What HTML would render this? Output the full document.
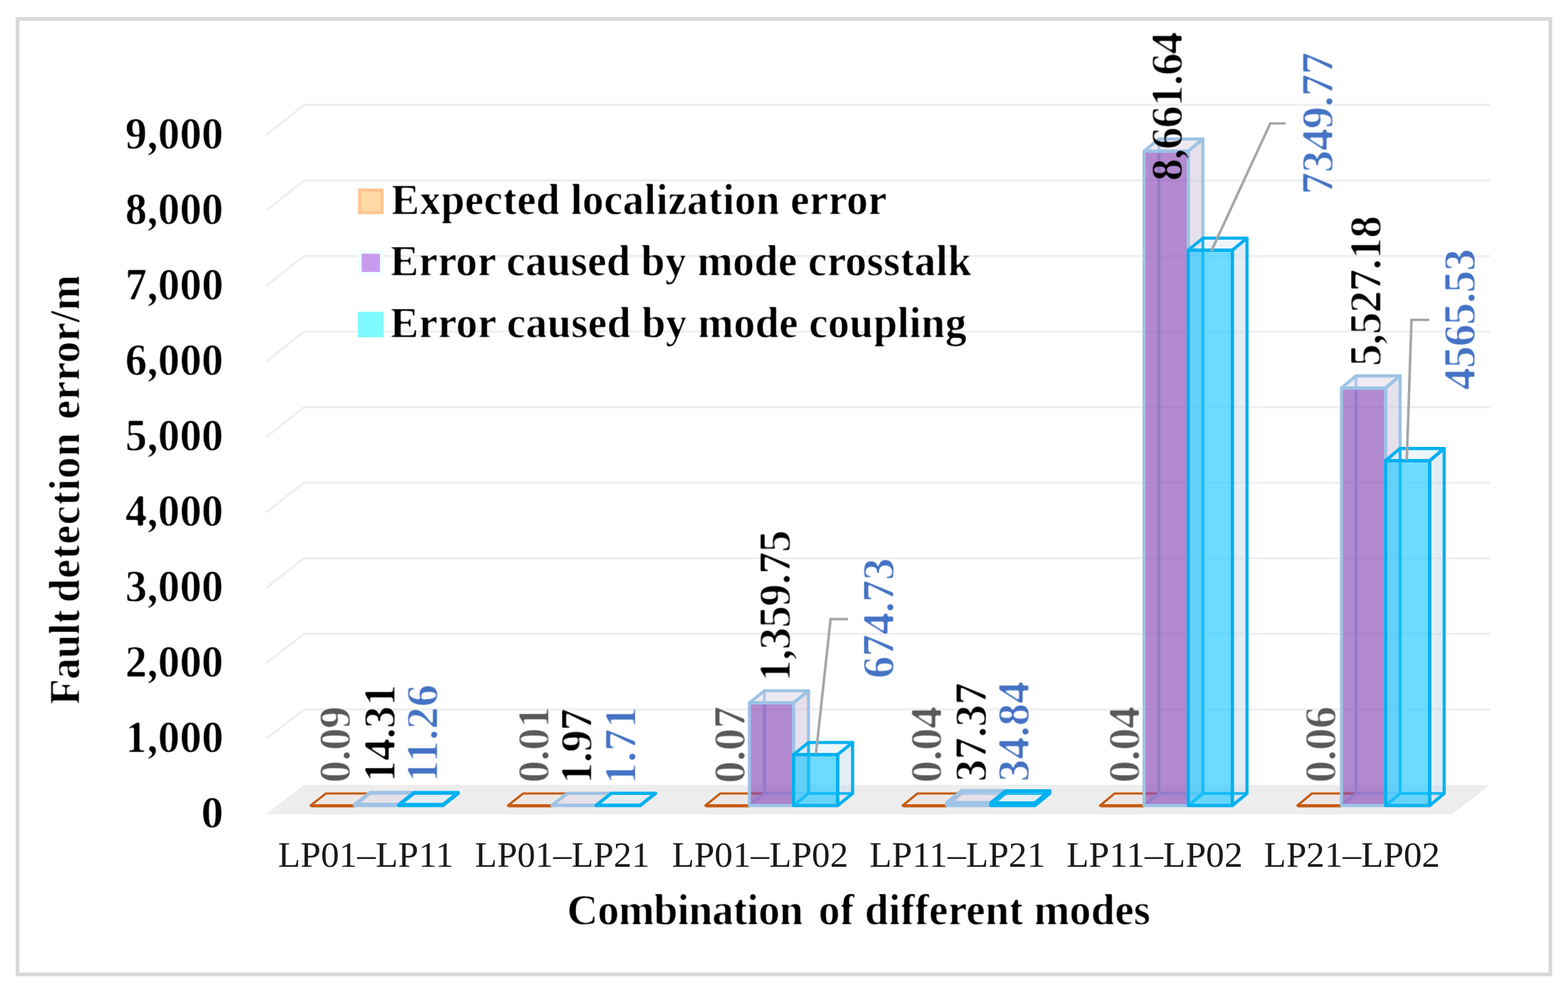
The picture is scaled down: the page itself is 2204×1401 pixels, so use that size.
<!DOCTYPE html>
<html lang="en">
<head>
<meta charset="utf-8">
<title>Fault detection error for combinations of different modes</title>
<style>
html,body{margin:0;padding:0;background:#fff;}
body{width:2204px;height:1401px;overflow:hidden;}
svg{display:block;font-family:"Liberation Serif", "DejaVu Serif", serif;}
svg text{white-space:pre;}
</style>
</head>
<body>
<svg width="2204" height="1401" viewBox="0 0 2204 1401">
<defs>
<filter id="page" filterUnits="userSpaceOnUse" x="0" y="0" width="2204" height="1401" color-interpolation-filters="sRGB">
<feGaussianBlur stdDeviation="0.55"/>
</filter>
<filter id="soft" x="-5%" y="-5%" width="110%" height="110%" color-interpolation-filters="sRGB">
<feGaussianBlur stdDeviation="0.7"/>
</filter>
<filter id="thin" x="-5%" y="-30%" width="110%" height="160%" color-interpolation-filters="sRGB">
<feGaussianBlur stdDeviation="1"/>
<feComponentTransfer><feFuncA type="linear" slope="2.2" intercept="-0.901"/></feComponentTransfer>
</filter>
<filter id="thin2" x="-5%" y="-30%" width="110%" height="160%" color-interpolation-filters="sRGB">
<feGaussianBlur stdDeviation="1"/>
<feComponentTransfer><feFuncA type="linear" slope="2.2" intercept="-1.021"/></feComponentTransfer>
</filter>
</defs>
<rect x="0" y="0" width="2204" height="1401" fill="#ffffff"/>
<g filter="url(#page)">
<rect x="24.7" y="26.6" width="2154.5" height="1342.6" fill="none" stroke="#d9d9d9" stroke-width="5.2"/>
<g filter="url(#soft)">
<polygon points="374.0,1144.3 427.5,1103.0 2094.5,1103.0 2041.0,1144.3" fill="#ededed"/>
<polyline points="374.0,1038.27 427.5,996.83 2094.5,996.83" fill="none" stroke="#efefef" stroke-width="3.2" stroke-linejoin="round"/>
<polyline points="374.0,932.24 427.5,890.66 2094.5,890.66" fill="none" stroke="#efefef" stroke-width="3.2" stroke-linejoin="round"/>
<polyline points="374.0,826.21 427.5,784.49 2094.5,784.49" fill="none" stroke="#efefef" stroke-width="3.2" stroke-linejoin="round"/>
<polyline points="374.0,720.18 427.5,678.32 2094.5,678.32" fill="none" stroke="#efefef" stroke-width="3.2" stroke-linejoin="round"/>
<polyline points="374.0,614.15 427.5,572.15 2094.5,572.15" fill="none" stroke="#efefef" stroke-width="3.2" stroke-linejoin="round"/>
<polyline points="374.0,508.12 427.5,465.98 2094.5,465.98" fill="none" stroke="#efefef" stroke-width="3.2" stroke-linejoin="round"/>
<polyline points="374.0,402.09 427.5,359.81 2094.5,359.81" fill="none" stroke="#efefef" stroke-width="3.2" stroke-linejoin="round"/>
<polyline points="374.0,296.06 427.5,253.64 2094.5,253.64" fill="none" stroke="#efefef" stroke-width="3.2" stroke-linejoin="round"/>
<polyline points="374.0,190.03 427.5,147.47 2094.5,147.47" fill="none" stroke="#efefef" stroke-width="3.2" stroke-linejoin="round"/>
<polygon points="436.50,1132.00 458.10,1115.00 520.10,1115.00 498.50,1132.00" fill="rgba(238,230,224,0.75)" stroke="#c55a11" stroke-width="3.0" stroke-linejoin="round" /><line x1="437.00" y1="1132.40" x2="498.50" y2="1132.40" stroke="#c55a11" stroke-width="4.2"/>
<polygon points="560.50,1132.00 582.10,1115.00 582.10,1113.48 560.50,1130.48" fill="rgba(205,193,217,0.5)" stroke="none" stroke-width="0" stroke-linejoin="round" /><polygon points="498.50,1130.48 520.10,1113.48 582.10,1113.48 560.50,1130.48" fill="rgba(223,211,229,0.5)" stroke="none" stroke-width="0" stroke-linejoin="round" /><line x1="520.10" y1="1115.00" x2="520.10" y2="1113.48" stroke="#9dc3e6" stroke-width="3.9600000000000004" stroke-linecap="round" stroke-opacity="0.85"/><line x1="520.10" y1="1115.00" x2="582.10" y2="1115.00" stroke="#9dc3e6" stroke-width="3.9600000000000004" stroke-linecap="round" stroke-opacity="0.85"/><line x1="498.50" y1="1132.00" x2="520.10" y2="1115.00" stroke="#9dc3e6" stroke-width="3.9600000000000004" stroke-linecap="round" stroke-opacity="0.85"/><polygon points="498.50,1132.00 560.50,1132.00 560.50,1130.48 498.50,1130.48" fill="rgba(136,70,180,0.64)" stroke="none" stroke-width="0" stroke-linejoin="round" /><polygon points="560.50,1132.00 582.10,1115.00 582.10,1113.48 560.50,1130.48" fill="none" stroke="#9dc3e6" stroke-width="4.4" stroke-linejoin="round" /><polygon points="498.50,1130.48 520.10,1113.48 582.10,1113.48 560.50,1130.48" fill="none" stroke="#9dc3e6" stroke-width="4.4" stroke-linejoin="round" /><polygon points="498.50,1132.00 560.50,1132.00 560.50,1130.48 498.50,1130.48" fill="none" stroke="#9dc3e6" stroke-width="4.4" stroke-linejoin="round" />
<polygon points="622.50,1132.00 644.10,1115.00 644.10,1113.80 622.50,1130.80" fill="rgba(200,220,235,0.5)" stroke="none" stroke-width="0" stroke-linejoin="round" /><polygon points="560.50,1130.80 582.10,1113.80 644.10,1113.80 622.50,1130.80" fill="rgba(220,238,246,0.5)" stroke="none" stroke-width="0" stroke-linejoin="round" /><line x1="582.10" y1="1115.00" x2="582.10" y2="1113.80" stroke="#00b0f0" stroke-width="3.9600000000000004" stroke-linecap="round" stroke-opacity="0.85"/><line x1="582.10" y1="1115.00" x2="644.10" y2="1115.00" stroke="#00b0f0" stroke-width="3.9600000000000004" stroke-linecap="round" stroke-opacity="0.85"/><line x1="560.50" y1="1132.00" x2="582.10" y2="1115.00" stroke="#00b0f0" stroke-width="3.9600000000000004" stroke-linecap="round" stroke-opacity="0.85"/><polygon points="560.50,1132.00 622.50,1132.00 622.50,1130.80 560.50,1130.80" fill="rgba(40,200,255,0.68)" stroke="none" stroke-width="0" stroke-linejoin="round" /><polygon points="622.50,1132.00 644.10,1115.00 644.10,1113.80 622.50,1130.80" fill="none" stroke="#00b0f0" stroke-width="4.4" stroke-linejoin="round" /><polygon points="560.50,1130.80 582.10,1113.80 644.10,1113.80 622.50,1130.80" fill="none" stroke="#00b0f0" stroke-width="4.4" stroke-linejoin="round" /><polygon points="560.50,1132.00 622.50,1132.00 622.50,1130.80 560.50,1130.80" fill="none" stroke="#00b0f0" stroke-width="4.4" stroke-linejoin="round" />
<polygon points="713.92,1132.00 735.27,1115.00 797.27,1115.00 775.92,1132.00" fill="rgba(238,230,224,0.75)" stroke="#c55a11" stroke-width="3.0" stroke-linejoin="round" /><line x1="714.42" y1="1132.40" x2="775.92" y2="1132.40" stroke="#c55a11" stroke-width="4.2"/>
<polygon points="837.92,1132.00 859.27,1115.00 859.27,1114.79 837.92,1131.79" fill="rgba(205,193,217,0.5)" stroke="none" stroke-width="0" stroke-linejoin="round" /><polygon points="775.92,1131.79 797.27,1114.79 859.27,1114.79 837.92,1131.79" fill="rgba(223,211,229,0.5)" stroke="none" stroke-width="0" stroke-linejoin="round" /><line x1="797.27" y1="1115.00" x2="797.27" y2="1114.79" stroke="#9dc3e6" stroke-width="3.9600000000000004" stroke-linecap="round" stroke-opacity="0.85"/><line x1="797.27" y1="1115.00" x2="859.27" y2="1115.00" stroke="#9dc3e6" stroke-width="3.9600000000000004" stroke-linecap="round" stroke-opacity="0.85"/><line x1="775.92" y1="1132.00" x2="797.27" y2="1115.00" stroke="#9dc3e6" stroke-width="3.9600000000000004" stroke-linecap="round" stroke-opacity="0.85"/><polygon points="775.92,1132.00 837.92,1132.00 837.92,1131.79 775.92,1131.79" fill="rgba(136,70,180,0.64)" stroke="none" stroke-width="0" stroke-linejoin="round" /><polygon points="837.92,1132.00 859.27,1115.00 859.27,1114.79 837.92,1131.79" fill="none" stroke="#9dc3e6" stroke-width="4.4" stroke-linejoin="round" /><polygon points="775.92,1131.79 797.27,1114.79 859.27,1114.79 837.92,1131.79" fill="none" stroke="#9dc3e6" stroke-width="4.4" stroke-linejoin="round" /><polygon points="775.92,1132.00 837.92,1132.00 837.92,1131.79 775.92,1131.79" fill="none" stroke="#9dc3e6" stroke-width="4.4" stroke-linejoin="round" />
<polygon points="899.92,1132.00 921.27,1115.00 921.27,1114.82 899.92,1131.82" fill="rgba(200,220,235,0.5)" stroke="none" stroke-width="0" stroke-linejoin="round" /><polygon points="837.92,1131.82 859.27,1114.82 921.27,1114.82 899.92,1131.82" fill="rgba(220,238,246,0.5)" stroke="none" stroke-width="0" stroke-linejoin="round" /><line x1="859.27" y1="1115.00" x2="859.27" y2="1114.82" stroke="#00b0f0" stroke-width="3.9600000000000004" stroke-linecap="round" stroke-opacity="0.85"/><line x1="859.27" y1="1115.00" x2="921.27" y2="1115.00" stroke="#00b0f0" stroke-width="3.9600000000000004" stroke-linecap="round" stroke-opacity="0.85"/><line x1="837.92" y1="1132.00" x2="859.27" y2="1115.00" stroke="#00b0f0" stroke-width="3.9600000000000004" stroke-linecap="round" stroke-opacity="0.85"/><polygon points="837.92,1132.00 899.92,1132.00 899.92,1131.82 837.92,1131.82" fill="rgba(40,200,255,0.68)" stroke="none" stroke-width="0" stroke-linejoin="round" /><polygon points="899.92,1132.00 921.27,1115.00 921.27,1114.82 899.92,1131.82" fill="none" stroke="#00b0f0" stroke-width="4.4" stroke-linejoin="round" /><polygon points="837.92,1131.82 859.27,1114.82 921.27,1114.82 899.92,1131.82" fill="none" stroke="#00b0f0" stroke-width="4.4" stroke-linejoin="round" /><polygon points="837.92,1132.00 899.92,1132.00 899.92,1131.82 837.92,1131.82" fill="none" stroke="#00b0f0" stroke-width="4.4" stroke-linejoin="round" />
<polygon points="991.34,1132.00 1012.44,1115.00 1074.44,1115.00 1053.34,1132.00" fill="rgba(238,230,224,0.75)" stroke="#c55a11" stroke-width="3.0" stroke-linejoin="round" /><line x1="991.84" y1="1132.40" x2="1053.34" y2="1132.40" stroke="#c55a11" stroke-width="4.2"/>
<polygon points="1115.34,1132.00 1136.44,1115.00 1136.44,970.64 1115.34,987.64" fill="rgba(205,193,217,0.5)" stroke="none" stroke-width="0" stroke-linejoin="round" /><polygon points="1053.34,987.64 1074.44,970.64 1136.44,970.64 1115.34,987.64" fill="rgba(223,211,229,0.5)" stroke="none" stroke-width="0" stroke-linejoin="round" /><line x1="1074.44" y1="1115.00" x2="1074.44" y2="970.64" stroke="#9dc3e6" stroke-width="3.9600000000000004" stroke-linecap="round" stroke-opacity="0.85"/><line x1="1074.44" y1="1115.00" x2="1136.44" y2="1115.00" stroke="#9dc3e6" stroke-width="3.9600000000000004" stroke-linecap="round" stroke-opacity="0.85"/><line x1="1053.34" y1="1132.00" x2="1074.44" y2="1115.00" stroke="#9dc3e6" stroke-width="3.9600000000000004" stroke-linecap="round" stroke-opacity="0.85"/><polygon points="1053.34,1132.00 1115.34,1132.00 1115.34,987.64 1053.34,987.64" fill="rgba(136,70,180,0.64)" stroke="none" stroke-width="0" stroke-linejoin="round" /><clipPath id="fc1"><rect x="1053.34" y="987.64" width="62.00" height="144.36"/></clipPath><g clip-path="url(#fc1)"><line x1="1074.44" y1="1115.00" x2="1074.44" y2="970.64" stroke="rgba(146,124,206,0.95)" stroke-width="3.9600000000000004" stroke-linecap="round" /><line x1="1074.44" y1="1115.00" x2="1136.44" y2="1115.00" stroke="rgba(146,124,206,0.95)" stroke-width="3.9600000000000004" stroke-linecap="round" /><line x1="1053.34" y1="1132.00" x2="1074.44" y2="1115.00" stroke="rgba(146,124,206,0.95)" stroke-width="3.9600000000000004" stroke-linecap="round" /></g><polygon points="1115.34,1132.00 1136.44,1115.00 1136.44,970.64 1115.34,987.64" fill="none" stroke="#9dc3e6" stroke-width="4.4" stroke-linejoin="round" /><polygon points="1053.34,987.64 1074.44,970.64 1136.44,970.64 1115.34,987.64" fill="none" stroke="#9dc3e6" stroke-width="4.4" stroke-linejoin="round" /><polygon points="1053.34,1132.00 1115.34,1132.00 1115.34,987.64 1053.34,987.64" fill="none" stroke="#9dc3e6" stroke-width="4.4" stroke-linejoin="round" />
<polygon points="1177.34,1132.00 1198.44,1115.00 1198.44,1043.36 1177.34,1060.36" fill="rgba(200,220,235,0.5)" stroke="none" stroke-width="0" stroke-linejoin="round" /><polygon points="1115.34,1060.36 1136.44,1043.36 1198.44,1043.36 1177.34,1060.36" fill="rgba(220,238,246,0.5)" stroke="none" stroke-width="0" stroke-linejoin="round" /><line x1="1136.44" y1="1115.00" x2="1136.44" y2="1043.36" stroke="#00b0f0" stroke-width="3.9600000000000004" stroke-linecap="round" stroke-opacity="0.85"/><line x1="1136.44" y1="1115.00" x2="1198.44" y2="1115.00" stroke="#00b0f0" stroke-width="3.9600000000000004" stroke-linecap="round" stroke-opacity="0.85"/><line x1="1115.34" y1="1132.00" x2="1136.44" y2="1115.00" stroke="#00b0f0" stroke-width="3.9600000000000004" stroke-linecap="round" stroke-opacity="0.85"/><polygon points="1115.34,1132.00 1177.34,1132.00 1177.34,1060.36 1115.34,1060.36" fill="rgba(40,200,255,0.68)" stroke="none" stroke-width="0" stroke-linejoin="round" /><clipPath id="fc2"><rect x="1115.34" y="1060.36" width="62.00" height="71.64"/></clipPath><g clip-path="url(#fc2)"><line x1="1136.44" y1="1115.00" x2="1136.44" y2="1043.36" stroke="rgba(20,190,250,0.9)" stroke-width="3.9600000000000004" stroke-linecap="round" /><line x1="1136.44" y1="1115.00" x2="1198.44" y2="1115.00" stroke="rgba(20,190,250,0.9)" stroke-width="3.9600000000000004" stroke-linecap="round" /><line x1="1115.34" y1="1132.00" x2="1136.44" y2="1115.00" stroke="rgba(20,190,250,0.9)" stroke-width="3.9600000000000004" stroke-linecap="round" /></g><polygon points="1177.34,1132.00 1198.44,1115.00 1198.44,1043.36 1177.34,1060.36" fill="none" stroke="#00b0f0" stroke-width="4.4" stroke-linejoin="round" /><polygon points="1115.34,1060.36 1136.44,1043.36 1198.44,1043.36 1177.34,1060.36" fill="none" stroke="#00b0f0" stroke-width="4.4" stroke-linejoin="round" /><polygon points="1115.34,1132.00 1177.34,1132.00 1177.34,1060.36 1115.34,1060.36" fill="none" stroke="#00b0f0" stroke-width="4.4" stroke-linejoin="round" />
<polygon points="1268.76,1132.00 1289.61,1115.00 1351.61,1115.00 1330.76,1132.00" fill="rgba(238,230,224,0.75)" stroke="#c55a11" stroke-width="3.0" stroke-linejoin="round" /><line x1="1269.26" y1="1132.40" x2="1330.76" y2="1132.40" stroke="#c55a11" stroke-width="4.2"/>
<polygon points="1392.76,1132.00 1413.61,1115.00 1413.61,1111.03 1392.76,1128.03" fill="rgba(205,193,217,0.5)" stroke="none" stroke-width="0" stroke-linejoin="round" /><polygon points="1330.76,1128.03 1351.61,1111.03 1413.61,1111.03 1392.76,1128.03" fill="rgba(223,211,229,0.5)" stroke="none" stroke-width="0" stroke-linejoin="round" /><line x1="1351.61" y1="1115.00" x2="1351.61" y2="1111.03" stroke="#9dc3e6" stroke-width="3.9600000000000004" stroke-linecap="round" stroke-opacity="0.85"/><line x1="1351.61" y1="1115.00" x2="1413.61" y2="1115.00" stroke="#9dc3e6" stroke-width="3.9600000000000004" stroke-linecap="round" stroke-opacity="0.85"/><line x1="1330.76" y1="1132.00" x2="1351.61" y2="1115.00" stroke="#9dc3e6" stroke-width="3.9600000000000004" stroke-linecap="round" stroke-opacity="0.85"/><polygon points="1330.76,1132.00 1392.76,1132.00 1392.76,1128.03 1330.76,1128.03" fill="rgba(136,70,180,0.64)" stroke="none" stroke-width="0" stroke-linejoin="round" /><polygon points="1392.76,1132.00 1413.61,1115.00 1413.61,1111.03 1392.76,1128.03" fill="none" stroke="#9dc3e6" stroke-width="4.4" stroke-linejoin="round" /><polygon points="1330.76,1128.03 1351.61,1111.03 1413.61,1111.03 1392.76,1128.03" fill="none" stroke="#9dc3e6" stroke-width="4.4" stroke-linejoin="round" /><polygon points="1330.76,1132.00 1392.76,1132.00 1392.76,1128.03 1330.76,1128.03" fill="none" stroke="#9dc3e6" stroke-width="4.4" stroke-linejoin="round" />
<polygon points="1454.76,1132.00 1475.61,1115.00 1475.61,1111.30 1454.76,1128.30" fill="rgba(200,220,235,0.5)" stroke="none" stroke-width="0" stroke-linejoin="round" /><polygon points="1392.76,1128.30 1413.61,1111.30 1475.61,1111.30 1454.76,1128.30" fill="rgba(220,238,246,0.5)" stroke="none" stroke-width="0" stroke-linejoin="round" /><line x1="1413.61" y1="1115.00" x2="1413.61" y2="1111.30" stroke="#00b0f0" stroke-width="3.9600000000000004" stroke-linecap="round" stroke-opacity="0.85"/><line x1="1413.61" y1="1115.00" x2="1475.61" y2="1115.00" stroke="#00b0f0" stroke-width="3.9600000000000004" stroke-linecap="round" stroke-opacity="0.85"/><line x1="1392.76" y1="1132.00" x2="1413.61" y2="1115.00" stroke="#00b0f0" stroke-width="3.9600000000000004" stroke-linecap="round" stroke-opacity="0.85"/><polygon points="1392.76,1132.00 1454.76,1132.00 1454.76,1128.30 1392.76,1128.30" fill="rgba(40,200,255,0.68)" stroke="none" stroke-width="0" stroke-linejoin="round" /><polygon points="1454.76,1132.00 1475.61,1115.00 1475.61,1111.30 1454.76,1128.30" fill="none" stroke="#00b0f0" stroke-width="4.4" stroke-linejoin="round" /><polygon points="1392.76,1128.30 1413.61,1111.30 1475.61,1111.30 1454.76,1128.30" fill="none" stroke="#00b0f0" stroke-width="4.4" stroke-linejoin="round" /><polygon points="1392.76,1132.00 1454.76,1132.00 1454.76,1128.30 1392.76,1128.30" fill="none" stroke="#00b0f0" stroke-width="4.4" stroke-linejoin="round" />
<polygon points="1546.18,1132.00 1566.78,1115.00 1628.78,1115.00 1608.18,1132.00" fill="rgba(238,230,224,0.75)" stroke="#c55a11" stroke-width="3.0" stroke-linejoin="round" /><line x1="1546.68" y1="1132.40" x2="1608.18" y2="1132.40" stroke="#c55a11" stroke-width="4.2"/>
<polygon points="1670.18,1132.00 1690.78,1115.00 1690.78,195.39 1670.18,212.39" fill="rgba(205,193,217,0.5)" stroke="none" stroke-width="0" stroke-linejoin="round" /><polygon points="1608.18,212.39 1628.78,195.39 1690.78,195.39 1670.18,212.39" fill="rgba(223,211,229,0.5)" stroke="none" stroke-width="0" stroke-linejoin="round" /><line x1="1628.78" y1="1115.00" x2="1628.78" y2="195.39" stroke="#9dc3e6" stroke-width="3.9600000000000004" stroke-linecap="round" stroke-opacity="0.85"/><line x1="1628.78" y1="1115.00" x2="1690.78" y2="1115.00" stroke="#9dc3e6" stroke-width="3.9600000000000004" stroke-linecap="round" stroke-opacity="0.85"/><line x1="1608.18" y1="1132.00" x2="1628.78" y2="1115.00" stroke="#9dc3e6" stroke-width="3.9600000000000004" stroke-linecap="round" stroke-opacity="0.85"/><polygon points="1608.18,1132.00 1670.18,1132.00 1670.18,212.39 1608.18,212.39" fill="rgba(136,70,180,0.64)" stroke="none" stroke-width="0" stroke-linejoin="round" /><clipPath id="fc3"><rect x="1608.18" y="212.39" width="62.00" height="919.61"/></clipPath><g clip-path="url(#fc3)"><line x1="1628.78" y1="1115.00" x2="1628.78" y2="195.39" stroke="rgba(146,124,206,0.95)" stroke-width="3.9600000000000004" stroke-linecap="round" /><line x1="1628.78" y1="1115.00" x2="1690.78" y2="1115.00" stroke="rgba(146,124,206,0.95)" stroke-width="3.9600000000000004" stroke-linecap="round" /><line x1="1608.18" y1="1132.00" x2="1628.78" y2="1115.00" stroke="rgba(146,124,206,0.95)" stroke-width="3.9600000000000004" stroke-linecap="round" /></g><polygon points="1670.18,1132.00 1690.78,1115.00 1690.78,195.39 1670.18,212.39" fill="none" stroke="#9dc3e6" stroke-width="4.4" stroke-linejoin="round" /><polygon points="1608.18,212.39 1628.78,195.39 1690.78,195.39 1670.18,212.39" fill="none" stroke="#9dc3e6" stroke-width="4.4" stroke-linejoin="round" /><polygon points="1608.18,1132.00 1670.18,1132.00 1670.18,212.39 1608.18,212.39" fill="none" stroke="#9dc3e6" stroke-width="4.4" stroke-linejoin="round" />
<polygon points="1732.18,1132.00 1752.78,1115.00 1752.78,334.67 1732.18,351.67" fill="rgba(200,220,235,0.5)" stroke="none" stroke-width="0" stroke-linejoin="round" /><polygon points="1670.18,351.67 1690.78,334.67 1752.78,334.67 1732.18,351.67" fill="rgba(220,238,246,0.5)" stroke="none" stroke-width="0" stroke-linejoin="round" /><line x1="1690.78" y1="1115.00" x2="1690.78" y2="334.67" stroke="#00b0f0" stroke-width="3.9600000000000004" stroke-linecap="round" stroke-opacity="0.85"/><line x1="1690.78" y1="1115.00" x2="1752.78" y2="1115.00" stroke="#00b0f0" stroke-width="3.9600000000000004" stroke-linecap="round" stroke-opacity="0.85"/><line x1="1670.18" y1="1132.00" x2="1690.78" y2="1115.00" stroke="#00b0f0" stroke-width="3.9600000000000004" stroke-linecap="round" stroke-opacity="0.85"/><polygon points="1670.18,1132.00 1732.18,1132.00 1732.18,351.67 1670.18,351.67" fill="rgba(40,200,255,0.68)" stroke="none" stroke-width="0" stroke-linejoin="round" /><clipPath id="fc4"><rect x="1670.18" y="351.67" width="62.00" height="780.33"/></clipPath><g clip-path="url(#fc4)"><line x1="1690.78" y1="1115.00" x2="1690.78" y2="334.67" stroke="rgba(20,190,250,0.9)" stroke-width="3.9600000000000004" stroke-linecap="round" /><line x1="1690.78" y1="1115.00" x2="1752.78" y2="1115.00" stroke="rgba(20,190,250,0.9)" stroke-width="3.9600000000000004" stroke-linecap="round" /><line x1="1670.18" y1="1132.00" x2="1690.78" y2="1115.00" stroke="rgba(20,190,250,0.9)" stroke-width="3.9600000000000004" stroke-linecap="round" /></g><polygon points="1732.18,1132.00 1752.78,1115.00 1752.78,334.67 1732.18,351.67" fill="none" stroke="#00b0f0" stroke-width="4.4" stroke-linejoin="round" /><polygon points="1670.18,351.67 1690.78,334.67 1752.78,334.67 1732.18,351.67" fill="none" stroke="#00b0f0" stroke-width="4.4" stroke-linejoin="round" /><polygon points="1670.18,1132.00 1732.18,1132.00 1732.18,351.67 1670.18,351.67" fill="none" stroke="#00b0f0" stroke-width="4.4" stroke-linejoin="round" />
<polygon points="1823.60,1132.00 1843.95,1115.00 1905.95,1115.00 1885.60,1132.00" fill="rgba(238,230,224,0.75)" stroke="#c55a11" stroke-width="3.0" stroke-linejoin="round" /><line x1="1824.10" y1="1132.40" x2="1885.60" y2="1132.40" stroke="#c55a11" stroke-width="4.2"/>
<polygon points="1947.60,1132.00 1967.95,1115.00 1967.95,528.18 1947.60,545.18" fill="rgba(205,193,217,0.5)" stroke="none" stroke-width="0" stroke-linejoin="round" /><polygon points="1885.60,545.18 1905.95,528.18 1967.95,528.18 1947.60,545.18" fill="rgba(223,211,229,0.5)" stroke="none" stroke-width="0" stroke-linejoin="round" /><line x1="1905.95" y1="1115.00" x2="1905.95" y2="528.18" stroke="#9dc3e6" stroke-width="3.9600000000000004" stroke-linecap="round" stroke-opacity="0.85"/><line x1="1905.95" y1="1115.00" x2="1967.95" y2="1115.00" stroke="#9dc3e6" stroke-width="3.9600000000000004" stroke-linecap="round" stroke-opacity="0.85"/><line x1="1885.60" y1="1132.00" x2="1905.95" y2="1115.00" stroke="#9dc3e6" stroke-width="3.9600000000000004" stroke-linecap="round" stroke-opacity="0.85"/><polygon points="1885.60,1132.00 1947.60,1132.00 1947.60,545.18 1885.60,545.18" fill="rgba(136,70,180,0.64)" stroke="none" stroke-width="0" stroke-linejoin="round" /><clipPath id="fc5"><rect x="1885.60" y="545.18" width="62.00" height="586.82"/></clipPath><g clip-path="url(#fc5)"><line x1="1905.95" y1="1115.00" x2="1905.95" y2="528.18" stroke="rgba(146,124,206,0.95)" stroke-width="3.9600000000000004" stroke-linecap="round" /><line x1="1905.95" y1="1115.00" x2="1967.95" y2="1115.00" stroke="rgba(146,124,206,0.95)" stroke-width="3.9600000000000004" stroke-linecap="round" /><line x1="1885.60" y1="1132.00" x2="1905.95" y2="1115.00" stroke="rgba(146,124,206,0.95)" stroke-width="3.9600000000000004" stroke-linecap="round" /></g><polygon points="1947.60,1132.00 1967.95,1115.00 1967.95,528.18 1947.60,545.18" fill="none" stroke="#9dc3e6" stroke-width="4.4" stroke-linejoin="round" /><polygon points="1885.60,545.18 1905.95,528.18 1967.95,528.18 1947.60,545.18" fill="none" stroke="#9dc3e6" stroke-width="4.4" stroke-linejoin="round" /><polygon points="1885.60,1132.00 1947.60,1132.00 1947.60,545.18 1885.60,545.18" fill="none" stroke="#9dc3e6" stroke-width="4.4" stroke-linejoin="round" />
<polygon points="2009.60,1132.00 2029.95,1115.00 2029.95,630.28 2009.60,647.28" fill="rgba(200,220,235,0.5)" stroke="none" stroke-width="0" stroke-linejoin="round" /><polygon points="1947.60,647.28 1967.95,630.28 2029.95,630.28 2009.60,647.28" fill="rgba(220,238,246,0.5)" stroke="none" stroke-width="0" stroke-linejoin="round" /><line x1="1967.95" y1="1115.00" x2="1967.95" y2="630.28" stroke="#00b0f0" stroke-width="3.9600000000000004" stroke-linecap="round" stroke-opacity="0.85"/><line x1="1967.95" y1="1115.00" x2="2029.95" y2="1115.00" stroke="#00b0f0" stroke-width="3.9600000000000004" stroke-linecap="round" stroke-opacity="0.85"/><line x1="1947.60" y1="1132.00" x2="1967.95" y2="1115.00" stroke="#00b0f0" stroke-width="3.9600000000000004" stroke-linecap="round" stroke-opacity="0.85"/><polygon points="1947.60,1132.00 2009.60,1132.00 2009.60,647.28 1947.60,647.28" fill="rgba(40,200,255,0.68)" stroke="none" stroke-width="0" stroke-linejoin="round" /><clipPath id="fc6"><rect x="1947.60" y="647.28" width="62.00" height="484.72"/></clipPath><g clip-path="url(#fc6)"><line x1="1967.95" y1="1115.00" x2="1967.95" y2="630.28" stroke="rgba(20,190,250,0.9)" stroke-width="3.9600000000000004" stroke-linecap="round" /><line x1="1967.95" y1="1115.00" x2="2029.95" y2="1115.00" stroke="rgba(20,190,250,0.9)" stroke-width="3.9600000000000004" stroke-linecap="round" /><line x1="1947.60" y1="1132.00" x2="1967.95" y2="1115.00" stroke="rgba(20,190,250,0.9)" stroke-width="3.9600000000000004" stroke-linecap="round" /></g><polygon points="2009.60,1132.00 2029.95,1115.00 2029.95,630.28 2009.60,647.28" fill="none" stroke="#00b0f0" stroke-width="4.4" stroke-linejoin="round" /><polygon points="1947.60,647.28 1967.95,630.28 2029.95,630.28 2009.60,647.28" fill="none" stroke="#00b0f0" stroke-width="4.4" stroke-linejoin="round" /><polygon points="1947.60,1132.00 2009.60,1132.00 2009.60,647.28 1947.60,647.28" fill="none" stroke="#00b0f0" stroke-width="4.4" stroke-linejoin="round" />
<polyline points="1146.9,1059 1167.5,870 1192,870" fill="none" stroke="#a6a6a6" stroke-width="3.6"/>
<polyline points="1702.5,353 1785.5,173.5 1807,173.5" fill="none" stroke="#a6a6a6" stroke-width="3.6"/>
<polyline points="1977.4,646 1984,449.5 2009,449.5" fill="none" stroke="#a6a6a6" stroke-width="3.6"/>
</g>
<text transform="translate(282.78,1162.50) scale(0.9941,1)" font-size="63" font-weight="bold" fill="#000" filter="url(#thin)">0</text>
<text transform="translate(176.10,1056.57) scale(0.9732,1)" font-size="63" font-weight="bold" fill="#000" filter="url(#thin)">1,000</text>
<text transform="translate(176.11,950.64) scale(0.9731,1)" font-size="63" font-weight="bold" fill="#000" filter="url(#thin)">2,000</text>
<text transform="translate(176.11,844.71) scale(0.9731,1)" font-size="63" font-weight="bold" fill="#000" filter="url(#thin)">3,000</text>
<text transform="translate(176.12,738.78) scale(0.9731,1)" font-size="63" font-weight="bold" fill="#000" filter="url(#thin)">4,000</text>
<text transform="translate(176.11,632.85) scale(0.9731,1)" font-size="63" font-weight="bold" fill="#000" filter="url(#thin)">5,000</text>
<text transform="translate(176.11,526.92) scale(0.9731,1)" font-size="63" font-weight="bold" fill="#000" filter="url(#thin)">6,000</text>
<text transform="translate(176.10,420.99) scale(0.9732,1)" font-size="63" font-weight="bold" fill="#000" filter="url(#thin)">7,000</text>
<text transform="translate(176.11,315.06) scale(0.9731,1)" font-size="63" font-weight="bold" fill="#000" filter="url(#thin)">8,000</text>
<text transform="translate(176.11,209.13) scale(0.9731,1)" font-size="63" font-weight="bold" fill="#000" filter="url(#thin)">9,000</text>
<text transform="translate(390.78,1218.40) scale(1.0301,1)" font-size="50" font-weight="normal" fill="#1a1a1a" filter="url(#soft)">LP01–LP11</text>
<text transform="translate(667.60,1218.40) scale(1.0170,1)" font-size="50" font-weight="normal" fill="#1a1a1a" filter="url(#soft)">LP01–LP21</text>
<text transform="translate(944.39,1218.40) scale(1.0260,1)" font-size="50" font-weight="normal" fill="#1a1a1a" filter="url(#soft)">LP01–LP02</text>
<text transform="translate(1222.08,1218.40) scale(1.0314,1)" font-size="50" font-weight="normal" fill="#1a1a1a" filter="url(#soft)">LP11–LP21</text>
<text transform="translate(1499.08,1218.40) scale(1.0329,1)" font-size="50" font-weight="normal" fill="#1a1a1a" filter="url(#soft)">LP11–LP02</text>
<text transform="translate(1776.59,1218.40) scale(1.0247,1)" font-size="50" font-weight="normal" fill="#1a1a1a" filter="url(#soft)">LP21–LP02</text>
<text transform="translate(0,1299.00) scale(0.975,1)" font-size="62" font-weight="bold" fill="#000" filter="url(#thin)"><tspan x="817.41" letter-spacing="-0.733">Combination</tspan> <tspan x="1180.09" letter-spacing="-0.140">of different modes</tspan></text>
<text transform="translate(111.40,0) rotate(-90) scale(0.975,1)" font-size="62" font-weight="bold" fill="#000" filter="url(#thin)"><tspan x="-1016.21" letter-spacing="-0.863">Fault</tspan> <tspan x="-868.48" letter-spacing="0.471">detection</tspan> <tspan x="-604.38" letter-spacing="-0.084">error/m</tspan></text>
<g filter="url(#soft)">
<rect x="505.4" y="267.2" width="31.4" height="31.4" fill="#ffd9a3" stroke="#ffc48e" stroke-width="4.4"/>
<rect x="505.9" y="354" width="30.6" height="30.6" fill="#c89bee" stroke="#effcff" stroke-width="5"/>
<rect x="503" y="438" width="36" height="36" fill="#7ffaff"/>
</g>
<text transform="translate(549.60,300.80) scale(0.9704,1)" font-size="62" font-weight="bold" fill="#000" filter="url(#thin)">Expected localization error</text>
<text transform="translate(548.19,386.80) scale(0.9729,1)" font-size="62" font-weight="bold" fill="#000" filter="url(#thin)">Error caused by mode crosstalk</text>
<text transform="translate(548.19,474.20) scale(0.9752,1)" font-size="62" font-weight="bold" fill="#000" filter="url(#thin)">Error caused by mode coupling</text>
<text transform="translate(492.00,1100.16) rotate(-90)" font-size="63.0" font-weight="bold" fill="#595959" letter-spacing="-0.794" filter="url(#thin2)">0.09</text>
<text transform="translate(554.90,1099.84) rotate(-90)" font-size="63.0" font-weight="bold" fill="#000" letter-spacing="-0.801" filter="url(#thin2)">14.31</text>
<text transform="translate(614.80,1099.84) rotate(-90)" font-size="63.0" font-weight="bold" fill="#4472c4" letter-spacing="-0.064" filter="url(#thin2)">11.26</text>
<text transform="translate(771.30,1100.16) rotate(-90)" font-size="63.0" font-weight="bold" fill="#595959" letter-spacing="-0.760" filter="url(#thin2)">0.01</text>
<text transform="translate(831.50,1102.14) rotate(-90)" font-size="63.0" font-weight="bold" fill="#000" letter-spacing="-1.145" filter="url(#thin2)">1.97</text>
<text transform="translate(893.40,1102.74) rotate(-90)" font-size="63.0" font-weight="bold" fill="#4472c4" letter-spacing="0.033" filter="url(#thin2)">1.71</text>
<text transform="translate(1046.90,1100.86) rotate(-90)" font-size="63.0" font-weight="bold" fill="#595959" letter-spacing="-0.571" filter="url(#thin2)">0.07</text>
<text transform="translate(1110.50,958.34) rotate(-90)" font-size="63.0" font-weight="bold" fill="#000" letter-spacing="-0.985" filter="url(#thin2)">1,359.75</text>
<text transform="translate(1256.00,953.50) rotate(-90)" font-size="63.0" font-weight="bold" fill="#4472c4" letter-spacing="-0.748" filter="url(#thin2)">674.73</text>
<text transform="translate(1323.30,1100.16) rotate(-90)" font-size="63.0" font-weight="bold" fill="#595959" letter-spacing="-0.795" filter="url(#thin2)">0.04</text>
<text transform="translate(1386.00,1098.56) rotate(-90)" font-size="63.0" font-weight="bold" fill="#000" letter-spacing="-0.553" filter="url(#thin2)">37.37</text>
<text transform="translate(1446.00,1098.56) rotate(-90)" font-size="63.0" font-weight="bold" fill="#4472c4" letter-spacing="-0.121" filter="url(#thin2)">34.84</text>
<text transform="translate(1601.50,1100.16) rotate(-90)" font-size="63.0" font-weight="bold" fill="#595959" letter-spacing="-0.795" filter="url(#thin2)">0.04</text>
<text transform="translate(1661.50,254.35) rotate(-90)" font-size="63.0" font-weight="bold" fill="#000" letter-spacing="-1.536" filter="url(#thin2)">8,661.64</text>
<text transform="translate(1873.20,273.42) rotate(-90)" font-size="63.0" font-weight="bold" fill="#4472c4" letter-spacing="-0.759" filter="url(#thin2)">7349.77</text>
<text transform="translate(1877.40,1100.16) rotate(-90)" font-size="63.0" font-weight="bold" fill="#595959" letter-spacing="-0.799" filter="url(#thin2)">0.06</text>
<text transform="translate(1940.70,514.82) rotate(-90)" font-size="63.0" font-weight="bold" fill="#000" letter-spacing="-1.248" filter="url(#thin2)">5,527.18</text>
<text transform="translate(2073.00,548.09) rotate(-90)" font-size="63.0" font-weight="bold" fill="#4472c4" letter-spacing="-1.060" filter="url(#thin2)">4565.53</text>
</g>
</svg>
</body>
</html>
